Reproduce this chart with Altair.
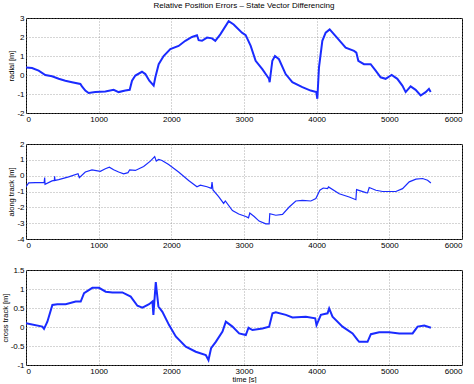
import altair as alt
import pandas as pd

# time samples [s] and error values [m] for each component
radial_t = [0, 83, 174, 266, 358, 450, 541, 633, 748, 770, 816, 862, 954, 1092, 1206, 1275,
            1367, 1427, 1459, 1505, 1596, 1642, 1697, 1757, 1780, 1826, 1894, 1986, 2100, 2193,
            2284, 2353, 2376, 2422, 2491, 2560, 2605, 2674, 2789, 2858, 2972, 3023, 3092, 3160,
            3252, 3344, 3353, 3390, 3426, 3481, 3573, 3665, 3803, 3917, 3995, 4009, 4032, 4078,
            4124, 4179, 4261, 4399, 4514, 4546, 4573, 4651, 4743, 4812, 4880, 4949, 5032, 5110,
            5179, 5225, 5293, 5362, 5431, 5500, 5545, 5569]
radial_v = [0.4, 0.37, 0.23, 0.0, -0.07, -0.2, -0.3, -0.38, -0.47, -0.6, -0.82, -0.95, -0.9, -0.87, -0.78, -0.9,
            -0.82, -0.78, -0.3, -0.03, 0.17, 0.05, -0.3, -0.56, -0.12, 0.57, 1.0, 1.36, 1.53, 1.8,
            2.0, 2.09, 1.83, 1.8, 1.97, 1.93, 1.8, 2.14, 2.83, 2.66, 2.23, 2.1, 1.53, 0.75,
            0.31, -0.2, -0.38, 0.75, 1.0, 0.83, 0.05, -0.38, -0.64, -0.82, -0.9, -1.25, 0.4, 1.8,
            2.23, 2.4, 2.05, 1.44, 1.27, 1.18, 0.75, 0.57, 0.57, 0.23, -0.12, -0.2, 0.0, -0.2,
            -0.56, -0.9, -0.6, -0.78, -1.08, -0.9, -0.73, -0.9]

along_t = [0, 37, 128, 250, 257, 262, 358, 390, 394, 398, 450, 587, 716, 734, 816, 908, 1023, 1092,
           1147, 1206, 1275, 1344, 1404, 1427, 1505, 1619, 1711, 1771, 1793, 1826, 1872, 1963,
           2100, 2238, 2353, 2399, 2491, 2550, 2560, 2573, 2651, 2720, 2743, 2841, 2927, 3025,
           3062, 3080, 3140, 3208, 3300, 3346, 3355, 3438, 3530, 3622, 3713, 3805, 3920, 3989,
           4044, 4090, 4150, 4163, 4310, 4448, 4540, 4549, 4677, 4700, 4723, 4815, 4907, 5090,
           5182, 5274, 5366, 5458, 5526, 5572]
along_v = [-0.7, -0.46, -0.44, -0.42, -0.12, -0.54, -0.33, -0.3, -0.04, -0.3, -0.25, -0.08, 0.12, -0.12, 0.23, 0.37, 0.27, 0.44,
           0.54, 0.37, 0.23, 0.12, 0.19, 0.37, 0.33, 0.58, 0.92, 1.2, 0.92, 1.02, 0.96, 0.7,
           0.23, -0.3, -0.7, -0.6, -0.7, -0.8, -0.4, -0.9, -1.33, -1.75, -1.6, -2.2, -2.42, -2.58,
           -2.66, -2.36, -2.58, -2.87, -3.04, -3.04, -2.4, -2.5, -2.45, -1.98, -1.6, -1.56, -1.6, -1.45,
           -0.92, -0.78, -0.82, -0.71, -1.14, -1.35, -1.52, -0.88, -1.07, -1.09, -0.75, -0.92, -1.0, -1.0,
           -0.82, -0.39, -0.22, -0.18, -0.29, -0.46]

cross_t = [0, 225, 248, 294, 363, 431, 546, 684, 753, 799, 913, 1005, 1097, 1189, 1326, 1441,
           1533, 1602, 1694, 1740, 1753, 1786, 1822, 1877, 1969, 2061, 2199, 2336, 2474, 2511,
           2547, 2612, 2704, 2750, 2841, 2933, 3025, 3062, 3117, 3254, 3346, 3392, 3438, 3576,
           3667, 3851, 3980, 3998, 4058, 4150, 4172, 4218, 4356, 4494, 4562, 4585, 4700, 4746,
           4860, 4998, 5136, 5320, 5389, 5481, 5572]
cross_v = [0.1, 0.01, -0.05, 0.14, 0.58, 0.6, 0.6, 0.67, 0.67, 0.89, 1.03, 1.03, 0.93, 0.91, 0.91, 0.8,
           0.56, 0.51, 0.6, 0.67, 0.32, 1.18, 0.54, 0.4, 0.05, -0.25, -0.52, -0.65, -0.74, -0.87,
           -0.56, -0.39, -0.12, 0.14, 0.01, -0.17, -0.21, -0.02, -0.08, -0.04, 0.01, 0.36, 0.39, 0.32,
           0.25, 0.27, 0.23, 0.05, 0.32, 0.36, 0.49, 0.27, 0.01, -0.17, -0.34, -0.39, -0.39, -0.19,
           -0.14, -0.14, -0.17, -0.17, 0.01, 0.04, -0.02]

x_ticks = [0, 1000, 2000, 3000, 4000, 5000, 6000]
FONT = "Liberation Sans"
BLUE = "#1a2bff"


def panel(t, v, ylabel, ydomain, ystep, width_px, xtitle=None, title=None):
    df = pd.DataFrame({"t": t, "v": v})
    yt = []
    y = ydomain[0]
    while y <= ydomain[1] + 1e-9:
        yt.append(round(y, 3))
        y += ystep
    if xtitle:
        x_axis = alt.Axis(values=x_ticks, format="d", title=xtitle)
    else:
        x_axis = alt.Axis(values=x_ticks, format="d", title=None)
    ch = alt.Chart(df).mark_line(color=BLUE, strokeWidth=width_px, clip=True).encode(
        x=alt.X("t:Q", scale=alt.Scale(domain=[0, 6000], nice=False), axis=x_axis),
        y=alt.Y("v:Q", scale=alt.Scale(domain=ydomain, nice=False),
                axis=alt.Axis(values=yt, title=ylabel, labelExpr="'' + datum.value")),
    ).properties(width=436, height=95)
    if title:
        ch = ch.properties(title=alt.TitleParams(title, fontSize=8, fontWeight="normal",
                                                 font=FONT, offset=4))
    return ch


top = panel(radial_t, radial_v, "radial [m]", [-2, 3], 1, 2.0,
            title="Relative Position Errors \u2013 State Vector Differencing")
mid = panel(along_t, along_v, "along track [m]", [-4, 2], 1, 1.2)
bot = panel(cross_t, cross_v, "cross track [m]", [-1, 1.5], 0.5, 2.0, xtitle="time [s]")

chart = alt.vconcat(top, mid, bot, spacing=15).properties(
    padding={"left": 0, "top": 1, "right": 0, "bottom": 0},
).configure_view(stroke="black", strokeWidth=1).configure_axis(
    labelFont=FONT, titleFont=FONT, labelFontSize=8, titleFontSize=7.5,
    labelColor="black", titleColor="black", titleFontWeight="normal",
    domain=False, ticks=False, labelPadding=2,
    grid=True, gridColor="#888888", gridDash=[1, 2], gridWidth=0.7,
).configure_axisY(titlePadding=1).configure_axisX(titlePadding=0)

chart.save("out.html", embed_options={"renderer": "svg", "actions": False})
